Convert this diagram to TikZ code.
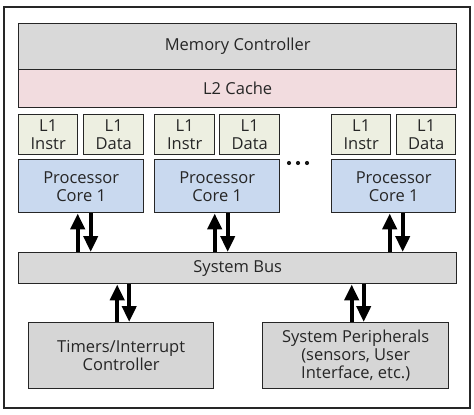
\documentclass[tikz,border=0pt]{standalone}
\usepackage{fontspec}
\setmainfont{Open Sans}
\usetikzlibrary{arrows.meta}
\definecolor{mcgray}{HTML}{D9D9D9}
\definecolor{ltwo}{HTML}{F2DCDF}
\definecolor{lone}{HTML}{EDEFE1}
\definecolor{proc}{HTML}{C9D9EF}
\definecolor{busgray}{HTML}{D9D9D9}
\definecolor{botgray}{HTML}{D6D6D6}
\tikzset{
  blk/.style={draw=black!85, line width=1.4pt, anchor=north west, inner sep=0pt,
    align=center, font=\fontsize{16.5}{18}\selectfont, text=black!85},
  uparr/.style={line width=4pt, -{Triangle[width=14pt,length=16pt]}},
  dnarr/.style={line width=4pt, -{Triangle[width=14pt,length=16pt]}},
}
\begin{document}
\begin{tikzpicture}[x=1pt,y=-1pt]
\useasboundingbox (0,0) rectangle (474,415);
\draw[line width=1.6pt, black!85] (4,7) rectangle (470,408);
% memory controller and L2
\node[blk, fill=mcgray, minimum width=438pt, minimum height=46pt] (mc) at (18,23) {Memory Controller};
\node[blk, fill=ltwo, minimum width=438pt, minimum height=38pt] (l2) at (18,69) {L2 Cache};
% L1 caches
\node[blk, fill=lone, minimum width=59pt, minimum height=40pt] (i1) at (18,114) {L1\\Instr};
\node[blk, fill=lone, minimum width=60pt, minimum height=40pt] (d1) at (83,114) {L1\\Data};
\node[blk, fill=lone, minimum width=60pt, minimum height=40pt] (i2) at (154,114) {L1\\Instr};
\node[blk, fill=lone, minimum width=60pt, minimum height=40pt] (d2) at (219,114) {L1\\Data};
\node[blk, fill=lone, minimum width=59pt, minimum height=40pt] (i3) at (331,114) {L1\\Instr};
\node[blk, fill=lone, minimum width=59pt, minimum height=40pt] (d3) at (396,114) {L1\\Data};
% processor cores
\node[blk, fill=proc, minimum width=125pt, minimum height=53pt] (c1) at (18,159) {Processor\\Core 1};
\node[blk, fill=proc, minimum width=125pt, minimum height=53pt] (c2) at (154,159) {Processor\\Core 1};
\node[blk, fill=proc, minimum width=124pt, minimum height=53pt] (c3) at (331,159) {Processor\\Core 1};
% dots
\foreach \x in {289,298,307} \fill[black!90] (\x,163) circle (2.1pt);
% system bus
\node[blk, fill=busgray, minimum width=438pt, minimum height=31pt] (bus) at (18,252) {System Bus};
% bottom boxes
\node[blk, fill=botgray, minimum width=185pt, minimum height=66pt] (tim) at (28,322) {Timers/Interrupt\\Controller};
\node[blk, fill=botgray, minimum width=186pt, minimum height=66pt] (per) at (262,322) {System Peripherals\\(sensors, User\\Interface, etc.)};
% arrow anchor coordinates
\coordinate (c1u) at ([xshift=-3.5pt]c1.south);
\coordinate (c1d) at ([xshift=9.5pt]c1.south);
\coordinate (c2u) at ([xshift=-2.5pt]c2.south);
\coordinate (c2d) at ([xshift=10.5pt]c2.south);
\coordinate (c3u) at ([xshift=-4pt]c3.south);
\coordinate (c3d) at ([xshift=9pt]c3.south);
\coordinate (tu) at ([xshift=-4pt]tim.north);
\coordinate (td) at ([xshift=8pt]tim.north);
\coordinate (pu) at ([xshift=-4pt]per.north);
\coordinate (pd) at ([xshift=8pt]per.north);
% arrows core <-> bus
\draw[uparr] (c1u |- bus.north) -- (c1u);
\draw[dnarr] (c1d) -- (c1d |- bus.north);
\draw[uparr] (c2u |- bus.north) -- (c2u);
\draw[dnarr] (c2d) -- (c2d |- bus.north);
\draw[uparr] (c3u |- bus.north) -- (c3u);
\draw[dnarr] (c3d) -- (c3d |- bus.north);
% arrows bus <-> bottom
\draw[uparr] (tu) -- (tu |- bus.south);
\draw[dnarr] (td |- bus.south) -- (td);
\draw[uparr] (pu) -- (pu |- bus.south);
\draw[dnarr] (pd |- bus.south) -- (pd);
\end{tikzpicture}
\end{document}
